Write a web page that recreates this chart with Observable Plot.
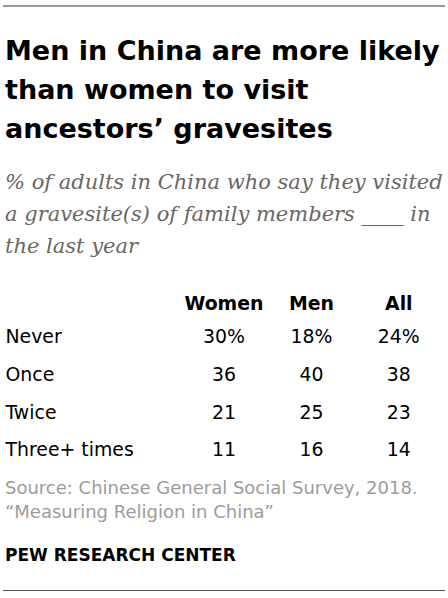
<!DOCTYPE html>
<html>
<head>
<meta charset="utf-8">
<script src="https://cdn.jsdelivr.net/npm/d3@7"></script>
<script src="https://cdn.jsdelivr.net/npm/@observablehq/plot@0.6"></script>
<style>
  body { margin: 0; background: #fff; font-family: "DejaVu Sans", sans-serif; }
  #wrap { width: 442px; margin: 5px 0 0 3px; border-top: 2px solid #9a9a9a; border-bottom: 1px solid #555; }
  h1 { font-size: 27px; line-height: 39px; font-weight: bold; margin: 24px 0 0 2px; color: #000; }
  .sub { font-family: "DejaVu Serif", serif; font-style: italic; font-size: 21px; line-height: 32px; color: #6a6663; margin: 18px 0 0 2px; }
  .src { font-size: 18px; line-height: 24px; color: #9c9c9c; margin: 7px 0 0 2px; }
  .pew { font-size: 17px; font-weight: bold; color: #000; margin: 21px 0 25px 2px; }
  #chart04 { margin: 15px 0 0 -3px; }
</style>
</head>
<body>
<div id="wrap">
  <h1>Men in China are more likely<br>than women to visit<br>ancestors’ gravesites</h1>
  <div class="sub">% of adults in China who say they visited<br>a gravesite(s) of family members ____ in<br>the last year</div>
  <div id="chart04"></div>
  <div class="src">Source: Chinese General Social Survey, 2018.<br>“Measuring Religion in China”</div>
  <div class="pew">PEW RESEARCH CENTER</div>
</div>
<script>
const groups = ['Women', 'Men', 'All']
const answers = ['Never', 'Once', 'Twice', 'Three+ times']
const women = [30, 36, 21, 11]
const men = [18, 40, 25, 16]
const all = [24, 38, 23, 14]

const series = {Women: women, Men: men, All: all}
const cells = groups.flatMap(g => answers.map((a, i) => ({group: g, answer: a, value: series[g][i]})))

let chart = Plot.plot({
  width: 448,
  height: 193,
  marginTop: 41,
  marginBottom: 0,
  marginLeft: 0,
  marginRight: 0,
  style: {fontFamily: '"DejaVu Sans", sans-serif', fontSize: '19px', color: '#000', background: 'transparent'},
  x: {type: 'point', domain: groups, range: [225, 401], padding: 0, axis: null},
  y: {type: 'band', domain: answers, padding: 0, axis: null},
  marks: [
    Plot.axisX({anchor: 'top', tickSize: 0, tickPadding: 8, fontWeight: 'bold', fontSize: 19, label: null, fill: '#000'}),
    Plot.text(answers, {y: d => d, frameAnchor: 'left', textAnchor: 'start', dx: 5, fontSize: 19, fill: '#000'}),
    Plot.text(cells, {
      x: 'group',
      y: 'answer',
      text: d => d.answer === answers[0] ? d.value + '%' : String(d.value),
      fontSize: 19,
      fill: '#000'
    })
  ]
})

d3.select('#chart04').append(() => chart)
</script>
</body>
</html>
